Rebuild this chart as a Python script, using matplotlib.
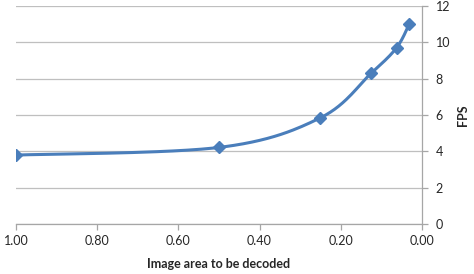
import matplotlib

matplotlib.use("Agg")

import matplotlib.pyplot as plt
import numpy as np

AREA = [1.0, 0.5, 0.25, 0.125, 0.0625, 0.03125]
FPS = [3.8, 4.22, 5.85, 8.3, 9.7, 11.0]
X_TICKS = [1.0, 0.8, 0.6, 0.4, 0.2, 0.0]
Y_TICKS = [0, 2, 4, 6, 8, 10, 12]

BLUE = "#4a7ebb"
GREY = "#a6a6a6"

plt.rcParams["font.family"] = ["Lato", "DejaVu Sans"]


def excel_smooth(ax, xs, ys, steps=30):
    # Excel-style smoothed line: cubic Bezier with Catmull-Rom control points (display space)
    pts = ax.transData.transform(np.column_stack([xs, ys]))
    n = len(pts)
    out = [pts[0]]
    for i in range(n - 1):
        p0 = pts[max(i - 1, 0)]
        p1 = pts[i]
        p2 = pts[i + 1]
        p3 = pts[min(i + 2, n - 1)]
        c1 = p1 + (p2 - p0) / 6.0
        c2 = p2 - (p3 - p1) / 6.0
        t = np.linspace(0, 1, steps)[1:, None]
        seg = ((1 - t) ** 3) * p1 + 3 * ((1 - t) ** 2) * t * c1 + 3 * (1 - t) * t ** 2 * c2 + t ** 3 * p2
        out.extend(seg)
    out = np.array(out)
    return ax.transData.inverted().transform(out)


fig = plt.figure(figsize=(4.74, 2.74), dpi=100)
ax = fig.add_axes([0.034, 0.182, 0.856, 0.796])

ax.set_xlim(1.0, 0.0)
ax.set_ylim(0, 12)

curve = excel_smooth(ax, AREA, FPS)
ax.plot(curve[:, 0], curve[:, 1], color=BLUE, linewidth=2.2, solid_capstyle="round", zorder=3)
ax.plot(AREA, FPS, linestyle="none", marker="D", markersize=6, color=BLUE,
        markeredgecolor=BLUE, zorder=4)

ax.yaxis.tick_right()
ax.yaxis.set_label_position("right")
ax.set_xticks(X_TICKS)
ax.set_xticklabels([f"{v:.2f}" for v in X_TICKS])
ax.set_yticks(Y_TICKS)
ax.grid(True, axis="y", color="#bfbfbf", linewidth=0.9)
ax.set_axisbelow(True)

for side in ["top", "left"]:
    ax.spines[side].set_visible(False)
for side in ["bottom", "right"]:
    ax.spines[side].set_color(GREY)
    ax.spines[side].set_linewidth(0.9)

ax.tick_params(axis="both", colors=GREY, labelcolor="#262626", labelsize=9, length=4, width=0.9)
ax.tick_params(axis="x", pad=4)
ax.tick_params(axis="y", pad=6)

ax.set_xlabel("Image area to be decoded", fontsize=9, fontweight="bold", color="#262626", labelpad=8)
ax.set_ylabel("FPS", fontsize=9, fontweight="bold", color="#262626", labelpad=5)

fig.savefig("out.png", dpi=100)
